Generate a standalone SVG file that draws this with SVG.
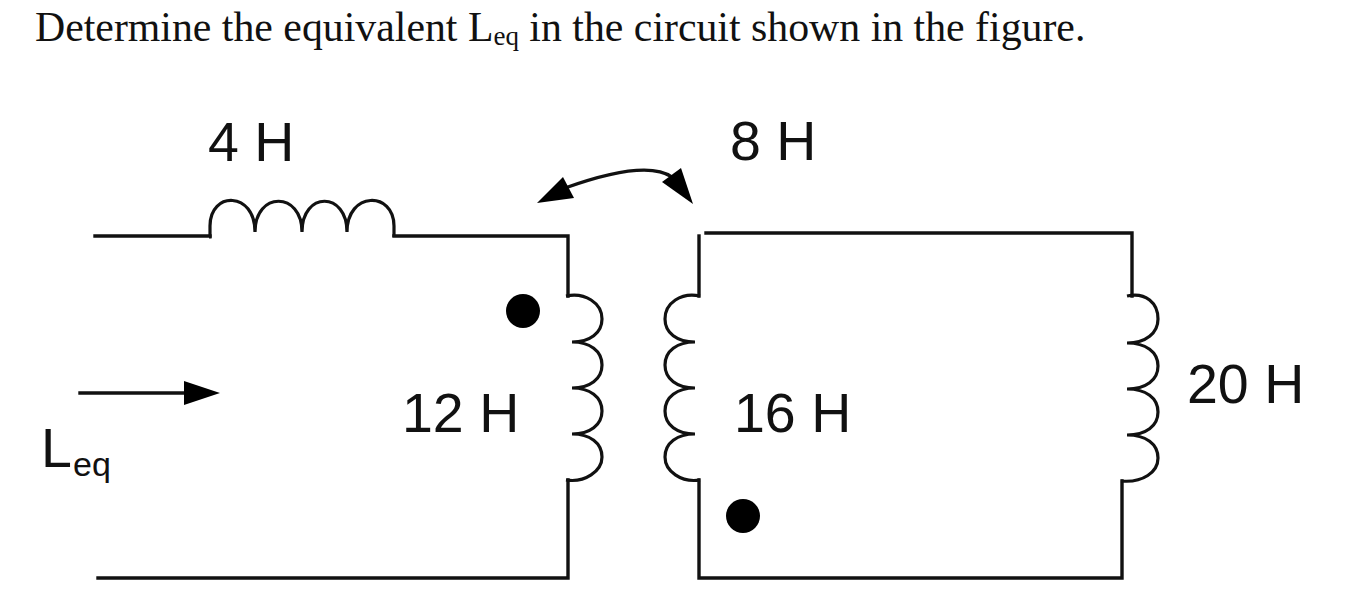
<svg xmlns="http://www.w3.org/2000/svg" width="1360" height="603" viewBox="0 0 1360 603">
<style>
.w{fill:none;stroke:#111;stroke-width:3.4;stroke-linecap:square;stroke-linejoin:miter}
.c{fill:none;stroke:#111;stroke-width:3.2}
.t{font-family:"Liberation Sans",Arial,sans-serif;font-size:55.5px;fill:#111}
.s{font-family:"Liberation Sans",Arial,sans-serif;font-size:34px;fill:#111}
.h{font-family:"Liberation Serif","Times New Roman",serif;font-size:41.8px;fill:#111}
.d{fill:#000}
</style>
<rect width="1360" height="603" fill="#fff"/>
<text class="h" x="35" y="41">Determine the equivalent L<tspan font-size="27" dy="4">eq</tspan><tspan dy="-4"> in the circuit shown in the figure.</tspan></text>
<g id="connectors">
<path class="w" d="M95 236H210M394 236H568V296"/>
<path class="w" d="M568 480V578H98"/>
<path class="w" d="M706 233H1132V296"/>
<path class="w" d="M699 236V296"/>
<path class="w" d="M699 480V578H1122V481"/>
<path class="w" d="M80 393H190"/>
<path d="M184 381L220 393L184 405Z" fill="#000"/>
<path class="c" d="M565 188Q646 159 672 177"/>
<path d="M537 203L574 198L563 177Z" fill="#000"/>
<path d="M693 204L681 168L662 182Z" fill="#000"/>
</g>
<g id="L4">
<path class="c" d="M209 237H210V226C210 191 255 191 255 232C255 191 302 191 302 232C302 191 347 191 347 232C347 191 394 191 394 226V237"/>
<text class="t" x="208" y="161">4 H</text>
</g>
<g id="L12">
<path class="c" d="M566 296C585 292 602 303 602 319C602 333 590 342 572 342C590 342 602 351 602 365C602 379 590 388 572 388C590 388 602 397 602 411C602 425 590 434 572 434C590 434 602 443 602 457C602 471 585 483 566 480"/>
<circle class="d" cx="523" cy="311" r="17"/>
<text class="t" x="402" y="432">12 H</text>
</g>
<g id="L16">
<path class="c" d="M700 296C681 292 665 303 665 319C665 333 677 342 695 342C677 342 665 351 665 365C665 379 677 388 695 388C677 388 665 397 665 411C665 425 677 434 695 434C677 434 665 443 665 457C665 471 681 483 700 480"/>
<circle class="d" cx="743" cy="516" r="17"/>
<text class="t" x="734" y="432">16 H</text>
</g>
<g id="L20">
<path class="c" d="M1127 296C1146 292 1158 303 1158 319C1158 333 1146 343 1127 343C1146 343 1158 352 1158 366C1158 380 1146 389 1127 389C1146 389 1158 398 1158 412C1158 426 1146 435 1127 435C1146 435 1158 444 1158 458C1158 472 1143 483 1121 481"/>
<text class="t" x="1187" y="403">20 H</text>
</g>
<g id="L8">
<text class="t" x="730" y="160">8 H</text>
</g>
<g id="Leq">
<text class="t" x="41" y="467">L</text>
<text class="s" x="73" y="476">eq</text>
</g>
</svg>
